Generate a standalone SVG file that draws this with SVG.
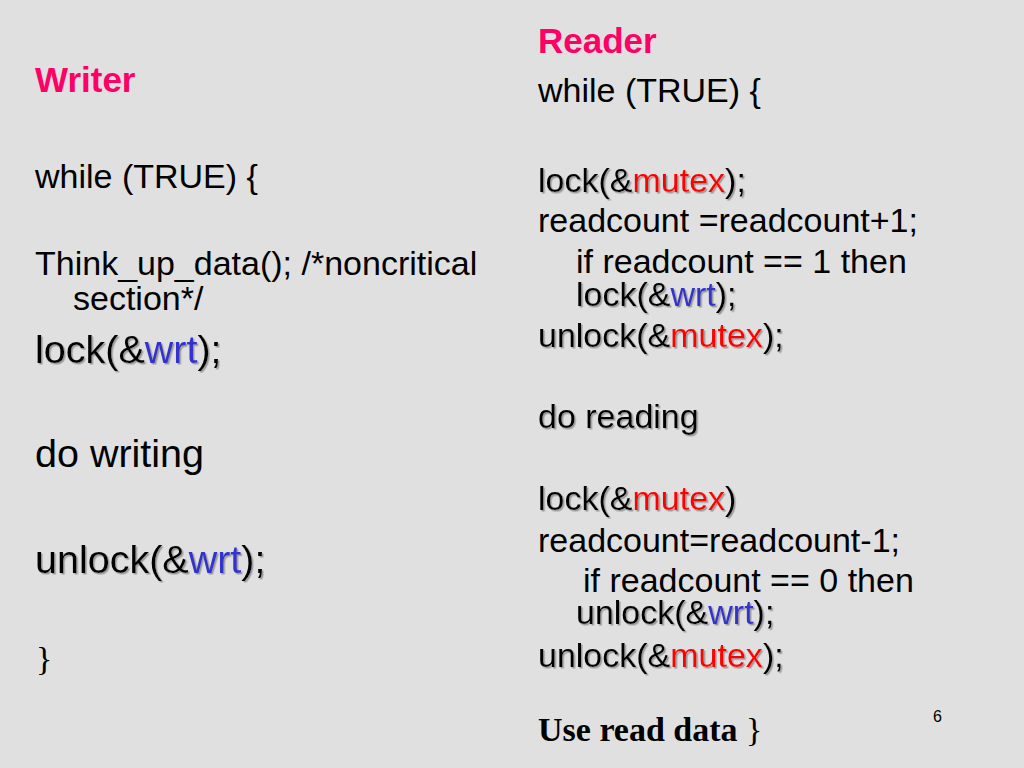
<svg xmlns="http://www.w3.org/2000/svg" width="1024" height="768" viewBox="0 0 1024 768">
<style>
text{font-family:"Liberation Sans",Arial,sans-serif;fill:#000}
.t{fill:#ff0066;font-size:35px;font-weight:bold}
.n{font-size:34px}
.b{font-size:39.5px}
.s{font-size:34px;filter:url(#sh)}
.bl{fill:#3333cc}
.rd{fill:#ff0000}
.sf{font-family:"Liberation Serif","Times New Roman",serif}
</style>
<defs><filter id="sh" x="-5%" y="-20%" width="110%" height="140%"><feDropShadow dx="1.5" dy="1.5" stdDeviation="0" flood-color="#999"/></filter></defs>
<rect width="1024" height="768" fill="#e0e0e0"/>
<g id="writer">
<text class="t" x="35" y="92">Writer</text>
<text class="n" x="35" y="188">while (TRUE) {</text>
<text class="n" x="35" y="275">Think_up_data(); /*noncritical</text>
<text class="n" x="73" y="310">section*/</text>
<text class="b" x="35" y="363" filter="url(#sh)">lock(&amp;<tspan class="bl">wrt</tspan>);</text>
<text class="b" x="35" y="467">do writing</text>
<text class="b" x="35" y="573" filter="url(#sh)">unlock(&amp;<tspan class="bl">wrt</tspan>);</text>
<text class="sf" x="36" y="670" font-size="34">}</text>
</g>
<g id="reader">
<text class="t" x="538" y="53">Reader</text>
<text class="n" x="538" y="102">while (TRUE) {</text>
<text class="s" x="538" y="192">lock(&amp;<tspan class="rd">mutex</tspan>);</text>
<text class="n" x="538" y="232">readcount =readcount+1;</text>
<text class="n" x="576" y="273">if readcount == 1 then</text>
<text class="s" x="576" y="306">lock(&amp;<tspan class="bl">wrt</tspan>);</text>
<text class="s" x="538" y="347">unlock(&amp;<tspan class="rd">mutex</tspan>);</text>
<text class="s" x="538" y="428">do reading</text>
<text class="s" x="538" y="510">lock(&amp;<tspan class="rd">mutex</tspan>)</text>
<text class="n" x="538" y="552">readcount=readcount-1;</text>
<text class="n" x="583" y="592">if readcount == 0 then</text>
<text class="s" x="576" y="624">unlock(&amp;<tspan class="bl">wrt</tspan>);</text>
<text class="s" x="538" y="667">unlock(&amp;<tspan class="rd">mutex</tspan>);</text>
<text class="sf" x="538" y="741" font-size="34" font-weight="bold">Use read data <tspan font-weight="normal">}</tspan></text>
</g>
<text x="933" y="722" font-size="16">6</text>
</svg>
